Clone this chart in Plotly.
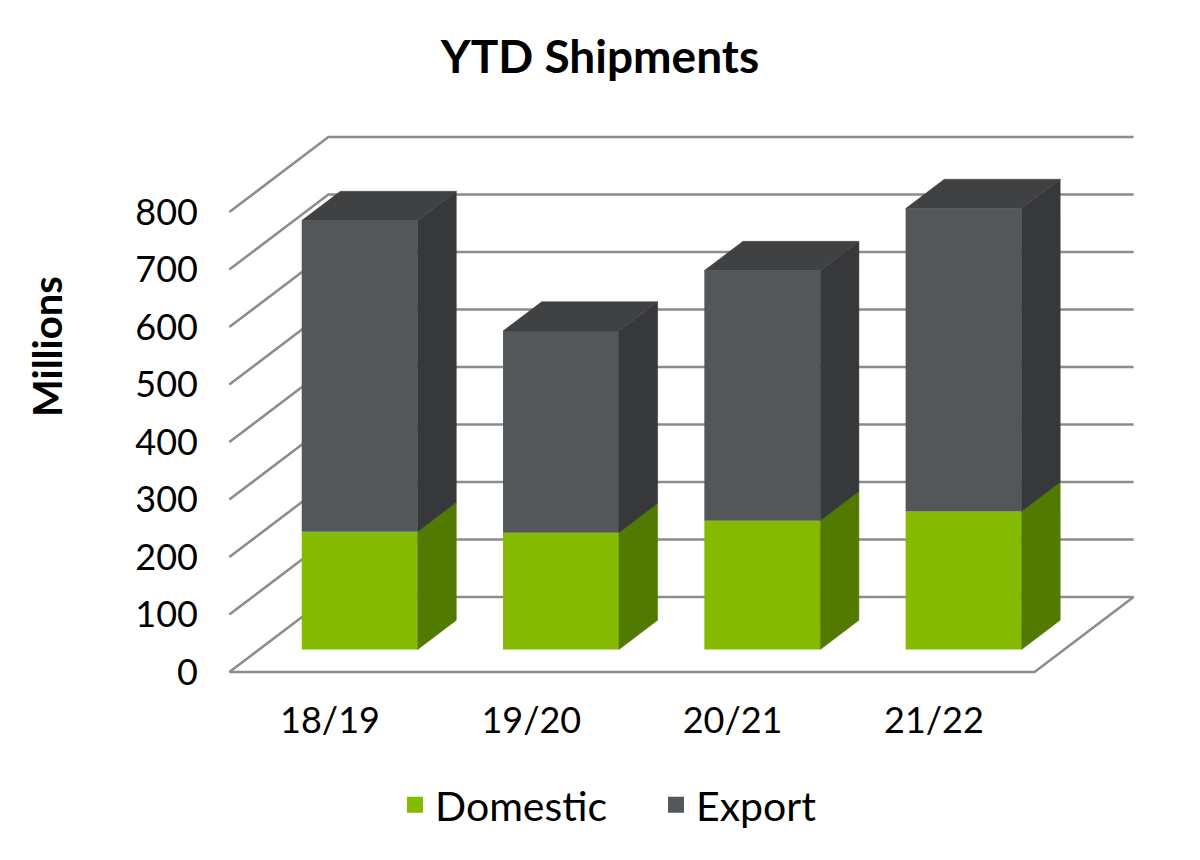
import plotly.graph_objects as go

# ---- data ----
categories = ["18/19", "19/20", "20/21", "21/22"]
domestic = [205, 203, 224, 240]
export = [541, 351, 435, 527]
tick_values = [0, 100, 200, 300, 400, 500, 600, 700, 800]

# ---- colours ----
GREEN_FRONT = "#84BA00"
GREEN_SIDE = "#537A00"
GREY_FRONT = "#53575A"
GREY_SIDE = "#37383A"
GREY_TOP = "#404143"
GRID = "#8C8C8C"
FONT = "Lato"

# ---- oblique projection parameters (in axis units) ----
DX = 0.492      # full floor depth, x units
DY = 130.4      # full floor depth, value units
F0, F1 = 0.30, 0.69   # bar front / back depth fractions
BAR_W = 0.576
X0, X1 = -0.5, len(categories) - 0.5

# pixel layout (figure coordinates; page adds an 8px body margin)
OFF = 8
W, H = 1200, 860
L, R, T, B = 197, 1152, 92, 688
PX_PER_U = 201.3
PX_U0 = 330 - OFF
PX_PER_V = 0.575
PX_V0 = 672 - OFF

xr = [(L - PX_U0) / PX_PER_U, (R - PX_U0) / PX_PER_U]
yr = [(PX_V0 - B) / PX_PER_V, (PX_V0 - T) / PX_PER_V]

fig = go.Figure()

# gridlines (behind everything) as shapes
shapes = []
for v in tick_values:
    path = f"M{X0},{v} L{X0 + DX},{v + DY} L{X1 + DX},{v + DY}"
    shapes.append(dict(type="path", xref="x", yref="y", path=path,
                       line=dict(color=GRID, width=2.5), layer="below"))
# floor front and right edges
shapes.append(dict(type="path", xref="x", yref="y",
                   path=f"M{X0},0 L{X1},0 L{X1 + DX},{DY}",
                   line=dict(color=GRID, width=2.5), layer="below"))

dxb = (F1 - F0) * DX
dyb = (F1 - F0) * DY
base0 = F0 * DY

# front faces as bars
xs = [i + F0 * DX for i in range(len(categories))]
fig.add_trace(go.Bar(x=xs, y=domestic, base=[base0] * len(domestic), width=BAR_W,
                     marker=dict(color=GREEN_FRONT, line=dict(width=0)),
                     name="Domestic", showlegend=False, hoverinfo="skip"))
fig.add_trace(go.Bar(x=xs, y=export, base=[base0 + d for d in domestic], width=BAR_W,
                     marker=dict(color=GREY_FRONT, line=dict(width=0)),
                     name="Export", showlegend=False, hoverinfo="skip"))


def poly(px, py, color):
    fig.add_trace(go.Scatter(x=px + [px[0]], y=py + [py[0]], mode="lines",
                             fill="toself", fillcolor=color,
                             line=dict(color=color, width=0.5),
                             showlegend=False, hoverinfo="skip"))


for i in range(len(categories)):
    xc = xs[i]
    xl, xrt = xc - BAR_W / 2, xc + BAR_W / 2
    y0 = base0
    y1 = base0 + domestic[i]
    y2 = y1 + export[i]
    # domestic side
    poly([xrt, xrt + dxb, xrt + dxb, xrt], [y0, y0 + dyb, y1 + dyb, y1], GREEN_SIDE)
    # export side
    poly([xrt, xrt + dxb, xrt + dxb, xrt], [y1, y1 + dyb, y2 + dyb, y2], GREY_SIDE)
    # top
    poly([xl, xrt, xrt + dxb, xl + dxb], [y2, y2, y2 + dyb, y2 + dyb], GREY_TOP)

# legend entries
fig.add_trace(go.Scatter(x=[None], y=[None], mode="markers", name="Domestic",
                         marker=dict(symbol="square", size=22, color=GREEN_FRONT)))
fig.add_trace(go.Scatter(x=[None], y=[None], mode="markers", name="Export",
                         marker=dict(symbol="square", size=22, color=GREY_FRONT)))

LEG_LEFT = 387  # figure px
fig.update_layout(
    width=W, height=H,
    margin=dict(l=L, r=W - R, t=T, b=H - B),
    paper_bgcolor="white", plot_bgcolor="white",
    barmode="overlay",
    shapes=shapes,
    font=dict(family=FONT, color="#000000"),
    title=dict(text="<b>YTD Shipments</b>", x=(600 - OFF) / W, xref="container", xanchor="center",
               y=1 - (57 - OFF) / H, yref="container", yanchor="middle",
               font=dict(size=46, family=FONT, color="#000000")),
    xaxis=dict(range=xr, tickmode="array", tickvals=list(range(len(categories))),
               ticktext=categories, showgrid=False, zeroline=False, showline=False,
               ticks="", tickfont=dict(size=36, family=FONT, color="#000000"), fixedrange=True),
    yaxis=dict(range=yr, tickmode="array", tickvals=tick_values,
               ticktext=[str(v) for v in tick_values], showgrid=False, zeroline=False,
               showline=False, ticks="", ticklabelstandoff=6,
               tickfont=dict(size=36, family=FONT, color="#000000"),
               fixedrange=True),
    legend=dict(orientation="h", x=(LEG_LEFT - L) / (R - L), xanchor="left",
                y=(B - (805 - OFF)) / (B - T), yanchor="middle",
                entrywidth=216, entrywidthmode="pixels",
                font=dict(size=41, family=FONT, color="#000000"),
                bgcolor="rgba(0,0,0,0)"),
    annotations=[dict(text="<b>Millions</b>", xref="paper", yref="paper",
                      x=(47 - OFF - L) / (R - L), y=(B - (347 - OFF)) / (B - T),
                      xanchor="center", yanchor="middle", textangle=-90,
                      showarrow=False, font=dict(size=40, family=FONT, color="#000000"))],
)

fig.write_html("out.html")
